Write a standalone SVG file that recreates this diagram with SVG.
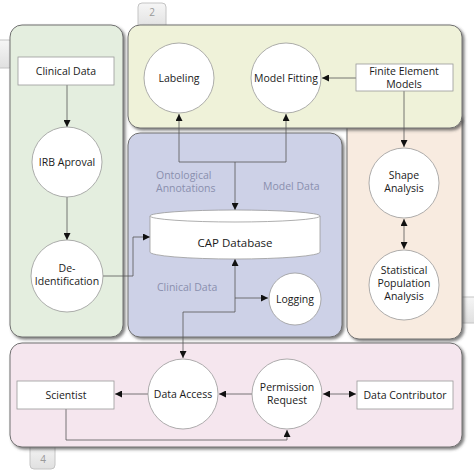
<svg xmlns="http://www.w3.org/2000/svg" width="474" height="474" viewBox="0 0 474 474">
<defs>
<filter id="sh" x="-5%" y="-5%" width="115%" height="115%">
<feDropShadow dx="2" dy="2" stdDeviation="1.5" flood-color="#444" flood-opacity="0.7"/>
</filter>
<linearGradient id="tab" x1="0" y1="0" x2="0" y2="1">
<stop offset="0" stop-color="#f6f6f6"/><stop offset="1" stop-color="#e0e0e0"/>
</linearGradient>
<linearGradient id="cyl" x1="0" y1="0" x2="1" y2="0">
<stop offset="0" stop-color="#f2f2f2"/><stop offset="0.5" stop-color="#ffffff"/><stop offset="1" stop-color="#e6e6e6"/>
</linearGradient>
<marker id="ah" viewBox="0 0 10 10" refX="10" refY="5" markerWidth="7" markerHeight="7" orient="auto-start-reverse" markerUnits="userSpaceOnUse">
<path d="M0,0 L10,5 L0,10 z" fill="#111"/>
</marker>
</defs>
<style>
.panel{stroke:#707070;stroke-width:1;filter:url(#sh)}
.tab{fill:url(#tab);stroke:#c4c4c4;stroke-width:1}
.tabt{font-family:"Open Sans","DejaVu Sans",sans-serif;font-size:10px;fill:#999;text-anchor:middle}
.node{fill:#fff;stroke:#999;stroke-width:0.8}
.t{font-family:"Open Sans","DejaVu Sans",sans-serif;font-size:10.5px;fill:#1a1a1a;text-anchor:middle}
.lbl{font-family:"Open Sans","DejaVu Sans",sans-serif;font-size:10.5px;fill:#8a8fae}
.c{fill:none;stroke:#555;stroke-width:0.8}
.ca{fill:none;stroke:#555;stroke-width:0.8;marker-end:url(#ah)}
.cb{fill:none;stroke:#555;stroke-width:0.8;marker-end:url(#ah);marker-start:url(#ah)}
</style>
<rect width="474" height="474" fill="#fff"/>
<g id="tabs">
<rect class="tab" x="-6" y="40" width="18" height="28" rx="3"/>
<rect class="tab" x="138" y="3" width="28" height="26" rx="4"/>
<text class="tabt" x="152" y="16">2</text>
<rect class="tab" x="458" y="297" width="22" height="26" rx="3"/>
<rect class="tab" x="30" y="443" width="25" height="26" rx="4"/>
<text class="tabt" x="43" y="463">4</text>
</g>
<g id="panels">
<rect id="panel-green" class="panel" x="10" y="25" width="113" height="312" rx="12" fill="#e4eedf"/>
<rect id="panel-peach" class="panel" x="347" y="110" width="115" height="229" rx="12" fill="#f8ebe0"/>
<rect id="panel-yellow" class="panel" x="128" y="25" width="334" height="103" rx="12" fill="#eff2d9"/>
<rect id="panel-blue" class="panel" x="128" y="133" width="214" height="204" rx="12" fill="#cdd1e7"/>
<rect id="panel-pink" class="panel" x="10" y="343" width="452" height="104" rx="12" fill="#f5e6ee"/>
</g>
<g id="labels">
<text class="lbl" x="156" y="179">Ontological</text>
<text class="lbl" x="156" y="192">Annotations</text>
<text class="lbl" x="263" y="190">Model Data</text>
<text class="lbl" x="157" y="291">Clinical Data</text>
</g>
<g id="connectors">
<path class="ca" d="M67,85 V127"/>
<path class="ca" d="M67,197 V240"/>
<path class="ca" d="M103,276 H133 V237 H150"/>
<path class="ca" d="M179,162 V114"/>
<path class="ca" d="M286,162 V114"/>
<path class="c" d="M179,162 H286"/>
<path class="ca" d="M235,162 V210"/>
<path class="ca" d="M356,78 H322"/>
<path class="ca" d="M404,91 V147"/>
<path class="cb" d="M404,219 V249"/>
<path class="ca" d="M183,312 V358"/>
<path class="c" d="M183,312 H235"/>
<path class="ca" d="M235,312 V259"/>
<path class="ca" d="M235,298 H268"/>
<path class="ca" d="M252,394 H219"/>
<path class="ca" d="M148,394 H115"/>
<path class="cb" d="M323,394 H356"/>
<path class="ca" d="M66,409 V440 H287 V430"/>
</g>
<g id="clinical-data">
<rect class="node" x="18" y="57" width="96" height="28"/>
<text class="t" x="66" y="74.5">Clinical Data</text>
</g>
<g id="irb-aproval">
<circle class="node" cx="67" cy="162" r="35"/>
<text class="t" x="67" y="165.5">IRB Aproval</text>
</g>
<g id="de-identification">
<circle class="node" cx="67" cy="276" r="36"/>
<text class="t" x="67" y="272">De-</text>
<text class="t" x="67" y="285">Identification</text>
</g>
<g id="labeling">
<circle class="node" cx="179" cy="78" r="35"/>
<text class="t" x="179" y="81.5">Labeling</text>
</g>
<g id="model-fitting">
<circle class="node" cx="286" cy="78" r="35"/>
<text class="t" x="286" y="81.5">Model Fitting</text>
</g>
<g id="finite-element-models">
<rect class="node" x="356" y="64" width="97" height="27"/>
<text class="t" x="404" y="75">Finite Element</text>
<text class="t" x="404" y="88">Models</text>
</g>
<g id="shape-analysis">
<circle class="node" cx="404" cy="183" r="35"/>
<text class="t" x="404" y="179">Shape</text>
<text class="t" x="404" y="192">Analysis</text>
</g>
<g id="statistical-population-analysis">
<circle class="node" cx="404" cy="285" r="35"/>
<text class="t" x="404" y="274">Statistical</text>
<text class="t" x="404" y="287">Population</text>
<text class="t" x="404" y="300">Analysis</text>
</g>
<g id="cap-database">
<path class="node" d="M150,216 V252 A85,7 0 0 0 320,252 V216" fill="url(#cyl)"/>
<ellipse class="node" cx="235" cy="216" rx="85" ry="6" fill="#fff"/>
<text class="t" x="235" y="247" style="font-size:11.5px">CAP Database</text>
</g>
<g id="logging">
<circle class="node" cx="295" cy="299" r="26"/>
<text class="t" x="295" y="302.5">Logging</text>
</g>
<g id="scientist">
<rect class="node" x="17" y="381" width="97" height="28"/>
<text class="t" x="66" y="398.5">Scientist</text>
</g>
<g id="data-access">
<circle class="node" cx="183" cy="394" r="35"/>
<text class="t" x="183" y="397.5">Data Access</text>
</g>
<g id="permission-request">
<circle class="node" cx="287" cy="394" r="35"/>
<text class="t" x="287" y="391">Permission</text>
<text class="t" x="287" y="404">Request</text>
</g>
<g id="data-contributor">
<rect class="node" x="357" y="381" width="96" height="28"/>
<text class="t" x="405" y="398.5">Data Contributor</text>
</g>
</svg>
